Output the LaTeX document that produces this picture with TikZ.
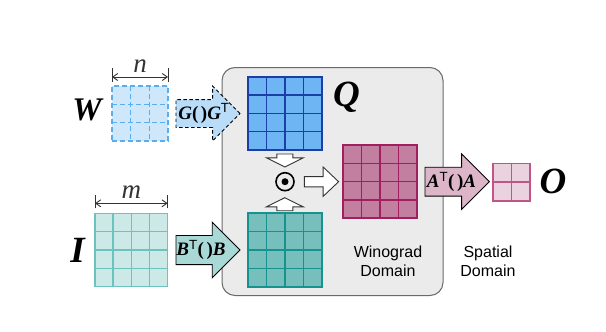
\documentclass[tikz,border=0pt]{standalone}
\usepackage{fontspec}
\setmainfont{Liberation Sans}
\newfontfamily\timesfont{Liberation Serif}
\usepackage{xcolor}
\usetikzlibrary{arrows.meta,positioning,shapes.arrows,calc}
\definecolor{qfill}{HTML}{6DB6F3}
\definecolor{qline}{HTML}{1B3FA6}
\definecolor{tfill}{HTML}{76BFBD}
\definecolor{tline}{HTML}{17928E}
\definecolor{pfill}{HTML}{C27FA0}
\definecolor{pline}{HTML}{A01F5E}
\definecolor{wfill}{HTML}{CFE7FB}
\definecolor{wline}{HTML}{5AAEF0}
\definecolor{ifill}{HTML}{CCE9E8}
\definecolor{iline}{HTML}{6CC3BD}
\definecolor{ofill}{HTML}{EBD2DF}
\definecolor{oline}{HTML}{C0558A}
\definecolor{garrfill}{HTML}{B9DCF8}
\definecolor{barrfill}{HTML}{A9D9D6}
\definecolor{aarrfill}{HTML}{DDB5C9}
\definecolor{domfill}{HTML}{EBEBEB}
\definecolor{domline}{HTML}{6A6A6A}

\begin{document}
\begin{tikzpicture}[x=1pt,y=-1pt,
 cell/.style={rectangle,inner sep=0,outer sep=0},
 big/.style={font=\fontsize{37}{37}\selectfont\timesfont\bfseries\itshape},
 dimtxt/.style={font=\fontsize{27}{27}\selectfont\timesfont\itshape,inner sep=1pt},
 dim/.style={{Straight Barb[length=5pt,width=7pt]}-{Straight Barb[length=5pt,width=7pt]},line width=0.9pt,black!80},
 tick/.style={line width=0.9pt,black!80},
 blockarr/.style={single arrow,draw=black,line width=0.9pt,inner xsep=0,outer sep=0,anchor=tail,single arrow tip angle=90},
 warr/.style={single arrow,draw=black!80,fill=white,line width=0.9pt,inner xsep=0,outer sep=0,anchor=tail},
 arrtxt/.style={font=\fontsize{19}{19}\selectfont\timesfont\bfseries\itshape,inner sep=0},
 domtxt/.style={font=\fontsize{16}{19.5}\selectfont,align=center}
]
\useasboundingbox (0,0) rectangle (606,332);
% winograd domain box
\node[draw=domline,fill=domfill,line width=1pt,rounded corners=13pt,minimum width=221pt,minimum height=228pt] (wdom) at (332.5,181.5) {};

% grids
\node[cell,fill=wfill,draw=wline,dash pattern=on 5pt off 3pt,line width=1.4pt,minimum width=56pt,minimum height=55pt] (kern) at (140,113.5) {};
\node[cell,fill=ifill,draw=iline,line width=1.4pt,minimum width=72.7pt,minimum height=73.4pt] (inp) at (131.35,250) {};
\node[cell,fill=qfill,draw=qline,line width=2pt,minimum width=73.7pt,minimum height=73.3pt] (kernw) at (284.85,113.35) {};
\node[cell,fill=tfill,draw=tline,line width=2pt,minimum width=73.7pt,minimum height=73.4pt] (inpw) at (284.85,250) {};
\node[cell,fill=pfill,draw=pline,line width=2pt,minimum width=73.4pt,minimum height=73.3pt] (prodw) at (380,181.65) {};
\node[cell,fill=ofill,draw=oline,line width=1.6pt,minimum width=37.3pt,minimum height=37.4pt] (outp) at (511.35,182) {};

\foreach \k in {1,2} {
 \draw[wline,dash pattern=on 5pt off 3pt,line width=1.4pt] ($(kern.north west)!\k/3!(kern.north east)$) -- ($(kern.south west)!\k/3!(kern.south east)$);
 \draw[wline,dash pattern=on 5pt off 3pt,line width=1.4pt] ($(kern.north west)!\k/3!(kern.south west)$) -- ($(kern.north east)!\k/3!(kern.south east)$);
}
\foreach \g/\c in {inp/iline,kernw/qline,inpw/tline,prodw/pline} {
 \foreach \k in {1,2,3} {
  \draw[\c,line width=1.5pt] ($(\g.north west)!\k/4!(\g.north east)$) -- ($(\g.south west)!\k/4!(\g.south east)$);
  \draw[\c,line width=1.5pt] ($(\g.north west)!\k/4!(\g.south west)$) -- ($(\g.north east)!\k/4!(\g.south east)$);
 }
}
\draw[oline,line width=1.4pt] (outp.north) -- (outp.south);
\draw[oline,line width=1.4pt] (outp.west) -- (outp.east);

% dimensions
\draw[tick] ([yshift=4pt]kern.north west) -- ([yshift=18pt]kern.north west);
\draw[tick] ([yshift=4pt]kern.north east) -- ([yshift=18pt]kern.north east);
\draw[dim] ([yshift=9pt]kern.north west) -- node[dimtxt,above=3.5pt] (nlab) {n} ([yshift=9pt]kern.north east);
\draw[tick] ([yshift=5pt]inp.north west) -- ([yshift=18pt]inp.north west);
\draw[tick] ([yshift=5pt]inp.north east) -- ([yshift=18pt]inp.north east);
\draw[dim] ([yshift=10pt]inp.north west) -- node[dimtxt,above=3pt] (mlab) {m} ([yshift=10pt]inp.north east);

% letters
\node[big,font=\fontsize{33}{33}\selectfont\timesfont\bfseries\itshape] (wlab) at (87,110) {W};
\node[big] (ilab) at (77.5,250) {I};
\node[big] (qlab) at (346.5,97) {Q};
\node[big] (olab) at (553,181) {O};

% transform arrows
\node[blockarr,dash pattern=on 3.5pt off 2.5pt,fill=garrfill,inner ysep=13.5pt,minimum height=64pt,minimum width=54pt,single arrow head extend=13.5pt] (garr) at ([xshift=8pt]kern.east) {};
\node[arrtxt] (glab) at ([xshift=28pt]garr.tail) {G{\upshape(\kern2.5pt)}G\textsuperscript{\normalfont T}};
\node[blockarr,fill=barrfill,inner ysep=14.1pt,minimum height=64pt,minimum width=54.6pt,single arrow head extend=13.2pt] (barr) at ([xshift=8.3pt]inp.east) {};
\node[arrtxt] (blab) at ([xshift=25pt]barr.tail) {B\textsuperscript{\normalfont T}{\upshape(\kern2.5pt)}B};
\node[blockarr,fill=aarrfill,inner ysep=14pt,minimum height=64.3pt,minimum width=54.7pt,single arrow head extend=13.3pt] (aarr) at ([xshift=8.3pt]prodw.east) {};
\node[arrtxt] (alab) at ([xshift=26.5pt]aarr.tail) {A\textsuperscript{\normalfont T}{\upshape(\kern2.5pt)}A};

% element-wise product
\node[circle,draw=black,line width=1.6pt,minimum size=18pt,inner sep=0] (dot) at (285,181.7) {};
\node[circle,fill=black,minimum size=7pt,inner sep=0] (dotc) at (dot) {};
\node[warr,rotate=-90,inner ysep=7.5pt,minimum height=13pt,minimum width=36pt,single arrow head extend=10.5pt,single arrow tip angle=127] (dn) at ([yshift=-4pt]kernw.south) {};
\node[warr,rotate=90,inner ysep=7.5pt,minimum height=13pt,minimum width=36pt,single arrow head extend=10.5pt,single arrow tip angle=127] (up) at ([yshift=2.6pt]inpw.north) {};
\node[warr,inner ysep=4.7pt,minimum height=34.3pt,minimum width=28.4pt,single arrow head extend=9.5pt,single arrow tip angle=87] (rt) at ([xshift=9.5pt]dot.east) {};

% domain labels
\node[domtxt] (wdlab) at (388,261.5) {Winograd\\Domain};
\node[domtxt] (sdlab) at (488,261.5) {Spatial\\Domain};
\end{tikzpicture}
\end{document}
